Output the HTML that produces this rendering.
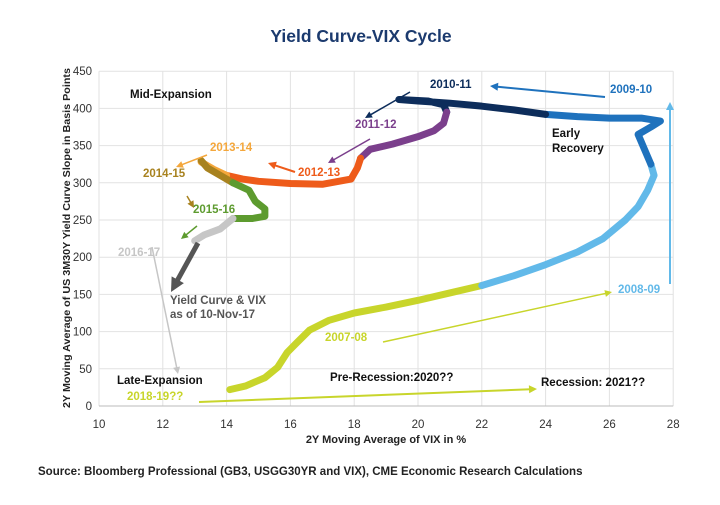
<!DOCTYPE html>
<html><head><meta charset="utf-8"><style>
body{margin:0;background:#fff;width:720px;height:500px;overflow:hidden}
svg text{font-family:"Liberation Sans",sans-serif}
</style></head><body>
<svg id="c" width="720" height="500">
<text x="361" y="42" text-anchor="middle" font-size="17.5" font-weight="bold" fill="#1b3a6e">Yield Curve-VIX Cycle</text>
<text transform="translate(70,238) rotate(-90)" text-anchor="middle" font-size="10.5" font-weight="bold" fill="#222" textLength="340" lengthAdjust="spacingAndGlyphs">2Y Moving Average of US 3M30Y Yield Curve Slope in Basis Points</text>
<text x="386" y="443" text-anchor="middle" font-size="11" font-weight="bold" fill="#222">2Y Moving Average of VIX in %</text>
<text x="38" y="475" font-size="11.5" font-weight="bold" fill="#222">Source: Bloomberg Professional (GB3, USGG30YR and VIX), CME Economic Research Calculations</text>
<g id="grid"></g><g id="series"></g><g id="ann"></g>
</svg>
<script>
const xTicks=[10,12,14,16,18,20,22,24,26,28];
const yTicks=[0,50,100,150,200,250,300,350,400,450];
const s0708=[[14.1,22],[14.6,27],[15.2,38],[15.6,52],[15.9,72],[16.2,85],[16.6,102],[17.2,115],[18,125],[19,133],[20,142],[21,152],[22,162]];
const s0809=[[22,162],[23,175],[24,190],[25,207],[25.8,225],[26.5,250],[26.9,268],[27.2,290],[27.4,310],[27.3,325]];
const s0910=[[27.3,325],[27.1,345],[26.9,365],[27.3,375],[27.6,383],[27,387],[26,387],[25,389],[24,392]];
const s1011=[[24,392],[23,398],[22,403],[21,407],[20,410],[19.4,412],[20.3,410],[20.8,405],[20.9,395]];
const s1112=[[20.9,395],[20.8,380],[20.5,370],[20,362],[19.2,352],[18.5,345],[18.2,333]];
const s1213=[[18.2,333],[18.1,320],[17.9,305],[17,298],[16,299],[15,302],[14.5,305],[14,310]];
const s1314=[[14,310],[13.6,318],[13.2,328]];
const s1415=[[13.2,330],[13.4,320],[13.8,310],[14.2,300]];
const s1516=[[14.2,300],[14.7,290],[14.9,275],[15.2,265],[15.2,255],[14.8,252],[14.2,252]];
const s1617=[[14.2,252],[13.8,238],[13.3,230],[13,222]];
const segs=[[s0708,'#c8d52b'],[s0809,'#62b9e9'],[s0910,'#1f72bd'],[s1011,'#0d2d5b'],[s1112,'#7b3f8c'],[s1213,'#ee5b1a'],[s1314,'#f4a73c'],[s1415,'#a8821f'],[s1516,'#5d9b2f'],[s1617,'#c6c6c6']];
const X=v=>99+(v-10)*31.9, Y=v=>406-v*0.744;
const NS='http://www.w3.org/2000/svg';
function mk(t,a,p){const e=document.createElementNS(NS,t);for(const k in a)e.setAttribute(k,a[k]);p.appendChild(e);return e;}
const g=document.getElementById('grid');
xTicks.forEach(v=>{
 const l=mk('line',{x1:X(v),x2:X(v),y1:Y(450),y2:Y(0),stroke:'#e2e2e2'},g);
 
 
 const t=mk('text',{x:X(v),y:428,'text-anchor':'middle','font-size':11.5,fill:'#333'},g);t.textContent=v;
 
 
});
yTicks.forEach(v=>{
 const l=mk('line',{x1:X(10),x2:X(28),y1:Y(v),y2:Y(v),stroke:v==0?'#bbb':'#e2e2e2'},g);
 
 
 const t=mk('text',{x:92,y:Y(v)+4,'text-anchor':'end','font-size':11.5,fill:'#333'},g);t.textContent=v;
 
 
});
const sg=document.getElementById('series');
segs.forEach(([d,c])=>{
 const p=mk('polyline',{points:d.map(q=>X(q[0])+','+Y(q[1])).join(' '),fill:'none',stroke:c,'stroke-width':7,'stroke-linejoin':'round','stroke-linecap':'round'},sg);
 
 
});
const a=document.getElementById('ann');
function arrow(x1,y1,x2,y2,c,w){
 const ang=Math.atan2(y2-y1,x2-x1),h=4+w*2;
 const l=mk('line',{x1,y1,x2:x2-Math.cos(ang)*h*0.8,y2:y2-Math.sin(ang)*h*0.8,stroke:c,'stroke-width':w},a);
 
 
 const p1=[x2-Math.cos(ang)*h-Math.sin(ang)*h*0.5,y2-Math.sin(ang)*h+Math.cos(ang)*h*0.5];
 const p2=[x2-Math.cos(ang)*h+Math.sin(ang)*h*0.5,y2-Math.sin(ang)*h-Math.cos(ang)*h*0.5];
 const t=mk('polygon',{points:`${x2},${y2} ${p1} ${p2}`,fill:c},a);
 
 
}
function lab(x,y,s,c,n){
 const t=mk('text',{x,y,'font-size':11.5,'font-weight':'bold',fill:c},a);t.textContent=s;
 
 
}
lab(130,98,'Mid-Expansion','#111','label-mid-expansion');
lab(430,88,'2010-11','#0d2d5b','label-2010-11');
lab(610,93,'2009-10','#1f72bd','label-2009-10');
arrow(605,97,490,86,'#1f72bd',2);
arrow(410,92,365,118,'#0d2d5b',1.5);
lab(355,128,'2011-12','#7b3f8c','label-2011-12');
arrow(370,139,328,163,'#7b3f8c',1.5);
lab(298,176,'2012-13','#ee5b1a','label-2012-13');
arrow(295,172,268,163,'#ee5b1a',2);
lab(210,151,'2013-14','#f4a73c','label-2013-14');
arrow(207,155,176,167,'#f4a73c',1.5);
lab(143,177,'2014-15','#a8821f','label-2014-15');
arrow(187,196,194,208,'#a8821f',1.5);
lab(193,213,'2015-16','#5d9b2f','label-2015-16');
arrow(197,226,181,239,'#5d9b2f',1.5);
lab(118,256,'2016-17','#c6c6c6','label-2016-17');
arrow(152,247,178,374,'#c6c6c6',1.5);
arrow(198,243,171,292,'#555',5);
lab(170,304,'Yield Curve & VIX','#555','label-current');
lab(170,318,'as of 10-Nov-17','#555','label-current-date');
lab(552,137,'Early','#111','label-early');
lab(552,152,'Recovery','#111','label-recovery');
lab(618,293,'2008-09','#62b9e9','label-2008-09');
arrow(670,284,670,102,'#62b9e9',2);
lab(325,341,'2007-08','#c8d52b','label-2007-08');
arrow(383,342,612,292,'#c8d52b',1.5);
lab(117,384,'Late-Expansion','#111','label-late-expansion');
lab(127,400,'2018-19??','#c8d52b','label-2018-19');
lab(330,381,'Pre-Recession:2020??','#111','label-pre-recession');
lab(541,386,'Recession: 2021??','#111','label-recession');
arrow(199,402,537,389,'#c8d52b',2);
</script>
</body></html>
